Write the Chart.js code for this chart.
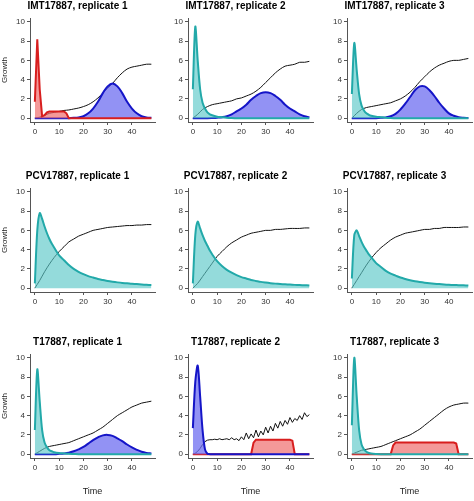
<!DOCTYPE html>
<html><head><meta charset="utf-8">
<script src="https://cdn.jsdelivr.net/npm/chart.js@4.4.0/dist/chart.umd.min.js"></script>
<style>
body{margin:0;background:#fff;width:474px;height:501px;position:relative;overflow:hidden}
.p{position:absolute;width:158px;height:165px}
</style></head><body>
<script>
// time grids
const tGrid = [0,2,4,6,8,10,12,14,16,18,20,22,24,26,28,30,32,34,36,38,40,42,44,46,48];
const tFine = [0,1,2,3,4,5,6,7,8,10,12,14,16,18,20,22,24,26,28,30,32,34,36,38,40,42,44,46,48];
const tUnit = Array.from({length:49},(_, i)=>i);
const xTicks = [0,10,20,30,40];
const yTicks = [0,2,4,6,8,10];
const Z16 = [0,0,0,0,0,0,0,0,0,0,0,0,0,0,0,0];

// IMT17887 rep 1
const imt1RedX = [0,1,2,3,4,5,6,12,13,14,48];
const imt1Red  = [1.7,8.2,3,0.2,0.3,0.6,0.7,0.7,0.5,0,0];
const imt1Blue = [0,0,0,0,0,0,0,0,0.03,0.08,0.2,0.5,1.0,1.7,2.6,3.3,3.6,3.3,2.6,1.7,1.0,0.5,0.2,0.08,0.03];
const imt1Growth = [0,0.1,0.3,0.5,0.6,0.7,0.8,0.85,0.95,1.05,1.2,1.4,1.7,2.1,2.6,3.1,3.6,4.2,4.7,5.1,5.3,5.4,5.5,5.6,5.6];
// rep 2
const imt2Teal = [3,9.5,6,3,1.6,1.0,0.6,0.4,0.3,0.15,0.1,0.05,0.02,...Z16];
const imt2Blue = [0,0,0,0,0.02,0.05,0.1,0.2,0.4,0.7,1.0,1.4,1.9,2.3,2.6,2.7,2.6,2.3,1.9,1.4,1.0,0.7,0.4,0.2,0.1];
const imt2Growth = [0,0.4,0.9,1.2,1.4,1.5,1.6,1.7,1.8,2.0,2.1,2.3,2.5,2.8,3.2,3.7,4.2,4.7,5.1,5.4,5.5,5.6,5.8,5.8,5.9];
// rep 3
const imt3Teal = [2.5,7.8,5,2.5,1.3,0.8,0.5,0.35,0.25,0.15,0.1,0.05,0.02,...Z16];
const imt3Blue = [0,0,0,0,0,0,0.03,0.08,0.2,0.45,0.9,1.5,2.2,2.9,3.3,3.3,2.9,2.3,1.6,1.0,0.5,0.25,0.1,0.04,0.01];
const imt3Growth = [0,0.5,0.9,1.1,1.2,1.3,1.4,1.5,1.6,1.8,2.0,2.3,2.7,3.2,3.8,4.3,4.8,5.2,5.5,5.7,5.9,6.0,6.0,6.1,6.2];

// PCV17887
const pcv1Teal = [0.5,6,7.8,7.2,6.4,5.7,5.1,4.6,4.2,3.4,2.9,2.4,2.0,1.7,1.45,1.25,1.1,0.95,0.85,0.75,0.67,0.6,0.54,0.5,0.45,0.42,0.38,0.35,0.33];
const pcv1Growth = [0,0.8,1.7,2.5,3.2,3.8,4.3,4.8,5.1,5.4,5.6,5.8,6.0,6.1,6.2,6.3,6.35,6.4,6.45,6.5,6.5,6.55,6.55,6.6,6.6];
const pcv2Teal = [0.5,5.5,6.9,6.2,5.5,4.9,4.4,3.9,3.5,2.8,2.3,1.9,1.6,1.35,1.15,1.0,0.85,0.75,0.65,0.58,0.52,0.47,0.43,0.4,0.37,0.34,0.32,0.3,0.28];
const pcv2Growth = [0,0.5,1.2,1.9,2.6,3.3,3.8,4.3,4.7,5.0,5.3,5.5,5.7,5.8,5.9,6.0,6.0,6.1,6.1,6.15,6.2,6.2,6.2,6.25,6.25];
const pcv3Teal = [1.0,5.5,6.0,5.4,4.8,4.3,3.9,3.5,3.2,2.6,2.2,1.8,1.5,1.3,1.1,0.95,0.82,0.72,0.64,0.57,0.51,0.46,0.42,0.38,0.35,0.33,0.31,0.29,0.27];
const pcv3Growth = [0,0.8,1.6,2.4,3.1,3.7,4.2,4.6,5.0,5.3,5.5,5.7,5.8,5.9,6.0,6.1,6.1,6.2,6.2,6.3,6.3,6.3,6.3,6.35,6.35];

// T17887
const t1Teal = [2.5,8.8,5.5,2.5,1.2,0.7,0.4,0.3,0.2,0.12,0.08,0.04,0.02,...Z16];
const t1Blue = [0,0,0,0,0,0.03,0.07,0.15,0.3,0.5,0.75,1.1,1.45,1.75,1.95,2.0,1.9,1.65,1.35,1.0,0.7,0.45,0.25,0.13,0.06];
const t1Growth = [0,0.3,0.6,0.8,0.9,1.0,1.1,1.2,1.4,1.6,1.8,2.0,2.2,2.5,2.8,3.2,3.6,4.0,4.3,4.6,4.9,5.1,5.3,5.4,5.5];
const t2Blue = [2.7,7.5,9.2,6,2.5,0.5,0.05,0,0,...Z16,0,0,0,0];
const t2RedX = [0,24,25,26,40,41,42,48];
const t2Red  = [0,0,1.2,1.5,1.5,1.4,0,0];
const t2Growth = [0,0.1,0.3,0.6,1.0,1.3,1.45,1.5,1.5,1.55,1.5,1.6,1.5,1.55,1.6,1.5,1.7,1.5,1.6,1.4,1.8,1.5,2.2,1.6,2.1,1.7,2.5,1.8,2.4,2.0,2.8,2.2,2.9,2.4,3.2,2.7,3.4,2.9,3.5,3.1,3.8,3.3,3.7,3.5,4.0,3.6,4.3,3.9,4.1];
const t3Teal = [3,10,6,2.5,1.0,0.5,0.25,0.12,0.06,0.02,0,0,0,...Z16];
const t3RedX = [0,16,17,18,42,43,44,48];
const t3Red  = [0,0,0.9,1.2,1.2,1.1,0,0];
const t3Growth = [0,0.2,0.4,0.5,0.6,0.7,0.8,1.0,1.2,1.4,1.6,1.8,2.0,2.3,2.6,3.0,3.4,3.8,4.2,4.6,4.9,5.1,5.2,5.3,5.3];

const COL = {
  red:  {line:'#d81e1e', fill:'rgba(240,110,110,0.7)'},
  blue: {line:'#1515c8', fill:'rgba(110,110,240,0.75)'},
  teal: {line:'#22a9a9', fill:'rgba(90,200,200,0.65)'}
};
const pts = (xs, ys) => xs.map((x,i)=>({x:x, y:ys[i]}));
const area = (c, xs, ys, tension) => ({data:pts(xs,ys), borderColor:COL[c].line, backgroundColor:COL[c].fill,
  fill:'origin', borderWidth:2, pointRadius:0, tension:tension});
const growth = (xs, ys) => ({data:pts(xs,ys), borderColor:'#111', borderWidth:1, pointRadius:0, fill:false, tension:0.3});

const panels = [
  ['IMT17887, replicate 1', [area('red',imt1RedX,imt1Red,0), area('blue',tGrid,imt1Blue,0.4), growth(tGrid,imt1Growth)]],
  ['IMT17887, replicate 2', [area('teal',tFine,imt2Teal,0.3), area('blue',tGrid,imt2Blue,0.4), growth(tGrid,imt2Growth)]],
  ['IMT17887, replicate 3', [area('teal',tFine,imt3Teal,0.3), area('blue',tGrid,imt3Blue,0.4), growth(tGrid,imt3Growth)]],
  ['PCV17887, replicate 1', [area('teal',tFine,pcv1Teal,0.3), growth(tGrid,pcv1Growth)]],
  ['PCV17887, replicate 2', [area('teal',tFine,pcv2Teal,0.3), growth(tGrid,pcv2Growth)]],
  ['PCV17887, replicate 3', [area('teal',tFine,pcv3Teal,0.3), growth(tGrid,pcv3Growth)]],
  ['T17887, replicate 1', [area('teal',tFine,t1Teal,0.3), area('blue',tGrid,t1Blue,0.4), growth(tGrid,t1Growth)]],
  ['T17887, replicate 2', [area('blue',tFine,t2Blue,0.3), area('red',t2RedX,t2Red,0), {...growth(tUnit,t2Growth), tension:0}]],
  ['T17887, replicate 3', [area('teal',tFine,t3Teal,0.3), area('red',t3RedX,t3Red,0), growth(tGrid,t3Growth)]]
];
const tops = [0,170,336], lefts = [0,158,317];

panels.forEach((p, i)=>{
  const row = Math.floor(i/3), col = i%3;
  const div = document.createElement('div');
  div.className = 'p';
  div.style.top = tops[row]+'px'; div.style.left = lefts[col]+'px';
  const cv = document.createElement('canvas');
  div.appendChild(cv); document.body.appendChild(div);
  const tickFont = {family:'Liberation Sans', size:8};
  new Chart(cv, {
    type:'scatter',
    data:{datasets:p[1].map(d=>({...d, showLine:true}))},
    options:{
      responsive:true, maintainAspectRatio:false, animation:false,
      layout:{padding:{right:3}},
      plugins:{legend:{display:false}, tooltip:{enabled:false},
        title:{display:true, text:p[0], color:'#000', font:{family:'Liberation Sans', size:10, weight:'bold'}, padding:{top:0,bottom:6}}},
      scales:{
        x:{type:'linear', min:-2, max:49.5,
          afterBuildTicks:a=>{a.ticks = xTicks.map(v=>({value:v}));},
          afterFit:a=>{a.height = 43;},
          grid:{drawOnChartArea:false, tickLength:3, color:'#555'}, border:{color:'#555'},
          ticks:{font:tickFont, color:'#333', maxRotation:0, padding:2},
          title:{display:row===2, text:'Time', font:{family:'Liberation Sans', size:9}, color:'#222', padding:{top:6}}},
        y:{min:-0.4, max:10.4,
          afterBuildTicks:a=>{a.ticks = yTicks.map(v=>({value:v}));},
          afterFit:a=>{a.width = 30;},
          grid:{drawOnChartArea:false, tickLength:3, color:'#555'}, border:{color:'#555'},
          ticks:{font:tickFont, color:'#333', padding:2},
          title:{display:col===0, text:'Growth', font:{family:'Liberation Sans', size:8}, color:'#222', padding:0}}
      }
    }
  });
});
</script>
</body></html>
